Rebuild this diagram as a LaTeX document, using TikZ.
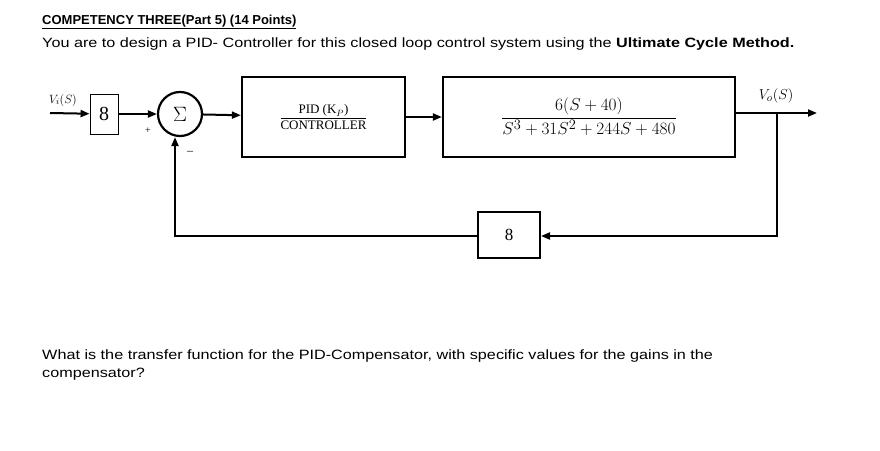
\documentclass[tikz,border=0pt]{standalone}
\usepackage{amsmath}
\usepackage{fontspec}
\setmainfont{Liberation Serif}
\setsansfont{Liberation Sans}
\usetikzlibrary{arrows.meta}
\begin{document}
\begin{tikzpicture}[x=1pt,y=-1pt,
  wire/.style={line width=2pt,-{Triangle[length=9pt,width=7pt]}},
  txt/.style={font=\sffamily\fontsize{13.5}{15}\selectfont,anchor=west,inner sep=0pt}]
\useasboundingbox (0,0) rectangle (880,450);
\node[txt,font=\sffamily\bfseries\fontsize{13}{15}\selectfont] (t1) at (42,22) {\underline{COMPETENCY THREE(Part 5) (14 Points)}};
\node[txt,xscale=1.2,anchor=west] (t2) at (42,44) {You are to design a PID- Controller for this closed loop control system using the \textbf{Ultimate Cycle Method.}};
\coordinate (in) at (50,113);
\node[draw,line width=0.9pt,minimum width=28pt,minimum height=40pt,font=\fontsize{20}{22}\selectfont] (g) at (104,114) {8};
\node[draw,circle,line width=2.2pt,minimum size=44pt,inner sep=0pt,font=\fontsize{22}{24}\selectfont] (s) at (180,114) {$\Sigma$};
\node[draw,line width=2.2pt,minimum width=163pt,minimum height=80pt,font=\fontsize{13}{15}\selectfont] (pid) at (323.5,117) {$\dfrac{\mbox{PID (K}_P\mbox{)}}{\mbox{CONTROLLER}}$};
\node[draw,line width=2.2pt,minimum width=292pt,minimum height=80pt,font=\fontsize{19}{22}\selectfont] (tf) at (589,117) {$\dfrac{6(S+40)}{S^3+31S^2+244S+480}$};
\node[draw,line width=2pt,minimum width=62pt,minimum height=46pt,font=\fontsize{17}{19}\selectfont] (h) at (509,235) {8};
\coordinate (out) at (817,113);
\coordinate (pk) at (777,113);
\coordinate (c1) at (777,236);
\coordinate (c2) at (175,236);
\node[font=\fontsize{13}{14}\selectfont] (vi) at (63,100) {$V_i(S)$};
\node[font=\fontsize{15}{16}\selectfont] (vo) at (776,96) {$V_o(S)$};
\node[font=\fontsize{10}{11}\selectfont] (pl) at (148,131) {+};
\node[font=\fontsize{12}{13}\selectfont] (mi) at (190,153) {--};
\draw[wire] (in) -- (g);
\draw[wire] (g) -- (s);
\draw[wire] (s) -- (pid);
\draw[wire] (pid.east|-tf) -- (tf);
\draw[wire] (tf.east|-out) -- (out);
\draw[wire] (pk) -- (c1) -- (h.east|-c1);
\draw[wire] (h.west|-c2) -- (c2) -- (s.south-|c2);
\node[txt,xscale=1.2,anchor=west] (q1) at (42,356) {What is the transfer function for the PID-Compensator, with specific values for the gains in the};
\node[txt,xscale=1.2,anchor=west] (q2) at (42,374) {compensator?};
\end{tikzpicture}
\end{document}
